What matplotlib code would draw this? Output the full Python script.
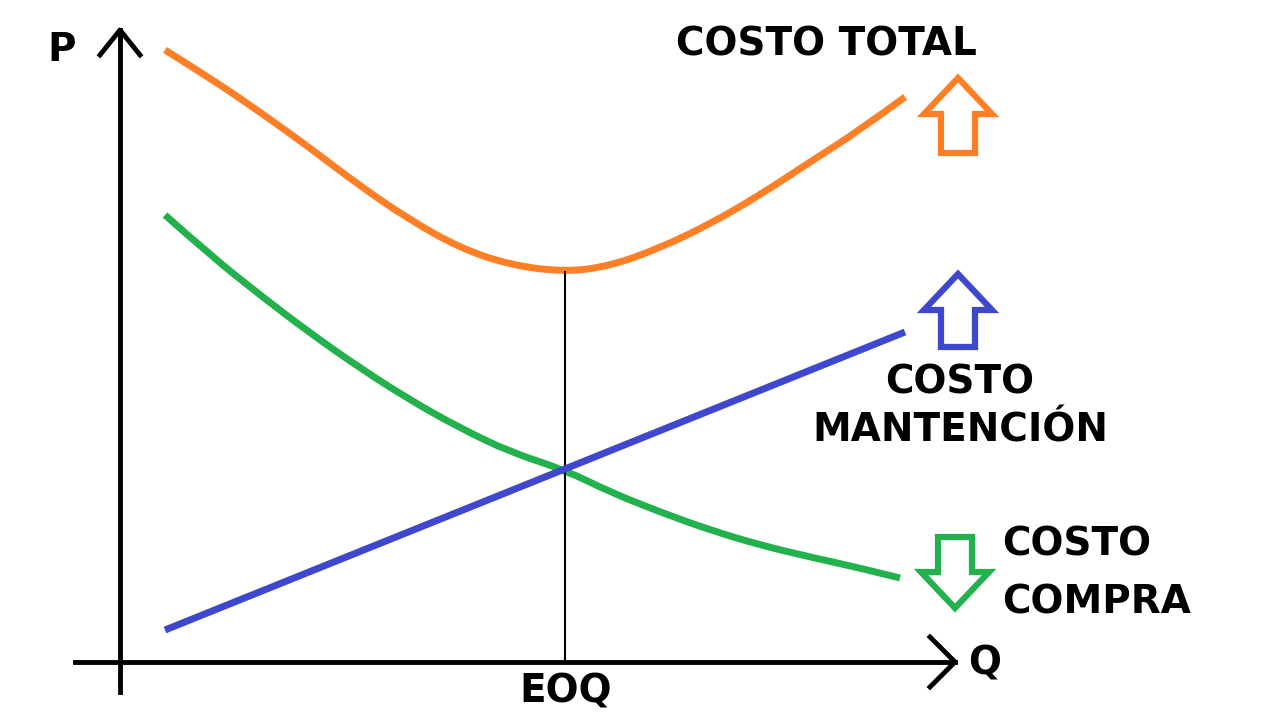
import matplotlib
matplotlib.use("Agg")
import matplotlib.pyplot as plt
from matplotlib.patches import Polygon, PathPatch
from matplotlib.path import Path

# curves in picture coordinates (x right, y down)
total_x = [165, 210, 260, 310, 360, 410, 460, 510, 565, 610, 660, 710, 760, 810, 860, 905]
total_y = [50, 78, 112, 148, 186, 220, 248, 265, 272, 266, 248, 224, 195, 162, 130, 97]
compra_x = [165, 210, 260, 310, 360, 410, 460, 510, 565, 610, 660, 710, 760, 810, 860, 900]
compra_y = [215, 255, 295, 333, 368, 400, 428, 452, 470, 492, 512, 530, 545, 557, 568, 578]
mant_x = [165, 905]
mant_y = [630, 332]
eoq_x = 565
eoq_top = 272

orange = "#FF7F27"
green = "#22B14C"
blue = "#3F48CC"

fig = plt.figure(figsize=(12.8, 7.2), dpi=100)
ax = fig.add_axes([0, 0, 1, 1])
ax.set_xlim(0, 1280)
ax.set_ylim(720, 0)
ax.axis("off")

def smooth(xs, ys, color):
    # quadratic Bezier through midpoints, rendered by matplotlib's Path
    pts = list(zip(xs, ys))
    verts = [pts[0]]
    codes = [Path.MOVETO]
    for i in range(1, len(pts) - 1):
        mid = ((pts[i][0] + pts[i + 1][0]) / 2, (pts[i][1] + pts[i + 1][1]) / 2)
        if i == len(pts) - 2:
            mid = pts[-1]
        verts += [pts[i], mid]
        codes += [Path.CURVE3, Path.CURVE3]
    ax.add_patch(PathPatch(Path(verts, codes), fill=False, edgecolor=color, lw=5, capstyle="butt"))

# axes
ax.plot([120, 120], [692, 30], color="black", lw=3.5)
ax.plot([100, 120, 140], [55, 30, 55], color="black", lw=3.5)
ax.plot([75, 955], [662, 662], color="black", lw=3.5)
ax.plot([930, 955, 930], [637, 662, 687], color="black", lw=3.5)

ax.plot([eoq_x, eoq_x], [eoq_top, 662], color="black", lw=1.5)

smooth(total_x, total_y, orange)
smooth(compra_x, compra_y, green)
ax.plot(mant_x, mant_y, color=blue, lw=5, solid_capstyle="butt")

def up_arrow(cx, tip, bottom, color):
    pts = [(cx, tip), (cx + 34, tip + 36), (cx + 17, tip + 36), (cx + 17, bottom),
           (cx - 17, bottom), (cx - 17, tip + 36), (cx - 34, tip + 36)]
    ax.add_patch(Polygon(pts, closed=True, fill=False, edgecolor=color, lw=4.5, joinstyle="miter"))

def down_arrow(cx, tip, top, color):
    pts = [(cx, tip), (cx + 34, tip - 36), (cx + 17, tip - 36), (cx + 17, top),
           (cx - 17, top), (cx - 17, tip - 36), (cx - 34, tip - 36)]
    ax.add_patch(Polygon(pts, closed=True, fill=False, edgecolor=color, lw=4.5, joinstyle="miter"))

up_arrow(958, 78, 153, orange)
up_arrow(958, 274, 347, blue)
down_arrow(955, 608, 537, green)

font = dict(family=["DejaVu Sans"], fontweight="bold", color="black")
fs = 28
ax.text(62, 50, "P", fontsize=fs, ha="center", va="center", **font)
ax.text(985, 663, "Q", fontsize=fs, ha="center", va="center", **font)
ax.text(566, 691, "EOQ", fontsize=fs, ha="center", va="center", **font)
ax.text(826, 44, "COSTO TOTAL", fontsize=fs, ha="center", va="center", **font)
ax.text(960, 382, "COSTO", fontsize=fs, ha="center", va="center", **font)
ax.text(960, 430, "MANTENCIÓN", fontsize=fs, ha="center", va="center", **font)
ax.text(1002, 545, "COSTO", fontsize=fs, ha="left", va="center", **font)
ax.text(1002, 603, "COMPRA", fontsize=fs, ha="left", va="center", **font)

fig.savefig("out.png", dpi=100, facecolor="white")
